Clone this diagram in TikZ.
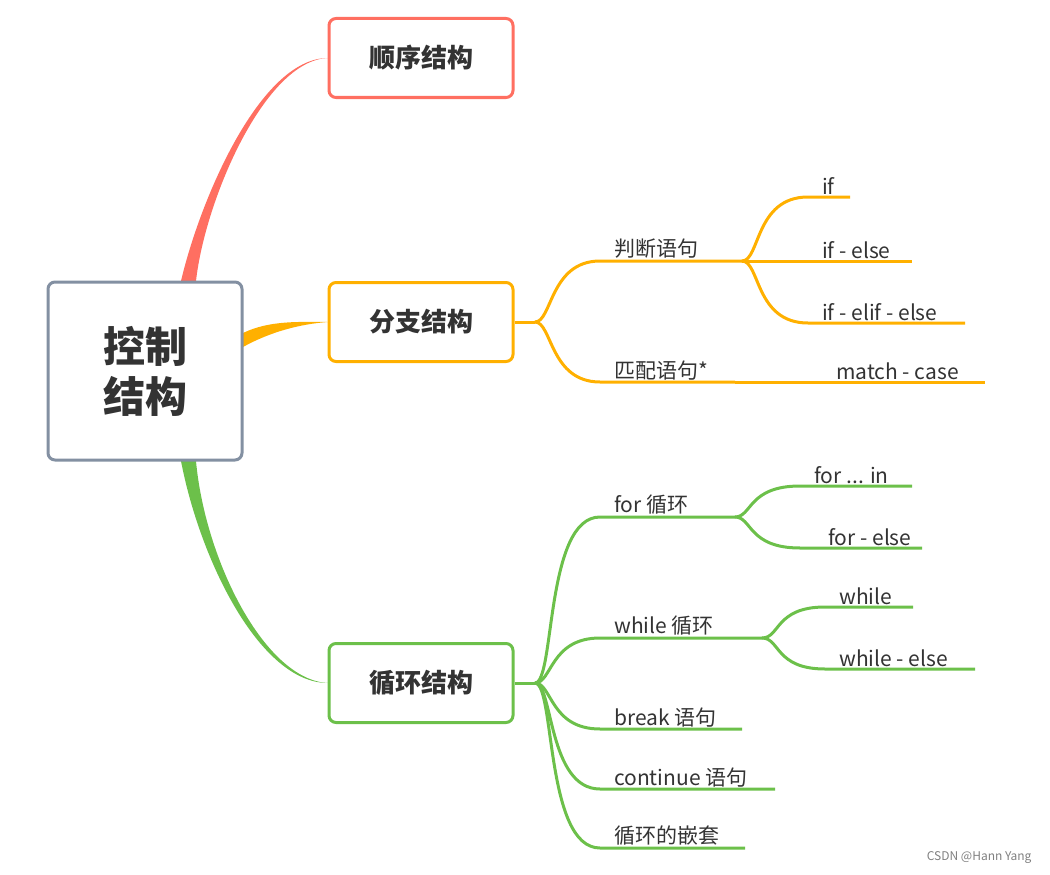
\documentclass[tikz,border=0pt]{standalone}
\usepackage{fontspec}
\setmainfont{Noto Sans CJK SC}
\definecolor{cred}{HTML}{FF6F61}
\definecolor{corg}{HTML}{FFB000}
\definecolor{cgrn}{HTML}{6CC04A}
\definecolor{cgry}{HTML}{8390A2}
\definecolor{ctxt}{HTML}{333333}
\begin{document}
\begin{tikzpicture}[x=1pt,y=-1pt,
  topic/.style={draw,line width=3pt,rounded corners=7pt,fill=white,minimum width=184pt,minimum height=79pt,font=\fontsize{26}{30}\selectfont\bfseries,text=ctxt},
  lbl/.style={anchor=south west,font=\fontsize{21}{24}\selectfont,text=ctxt,inner sep=2pt},
  br/.style={line width=3pt}]
\useasboundingbox (0,0) rectangle (1050,875);
\fill[cred] (181,281) .. controls (200,200) and (260,58) .. (328,58) .. controls (265,60) and (205,200) .. (196,281) -- cycle;
\fill[corg] (243,333) .. controls (270,320) and (300,322) .. (328,322) .. controls (300,324) and (270,332) .. (243,347) -- cycle;
\fill[cgrn] (181,461) .. controls (200,560) and (260,683) .. (328,683) .. controls (265,680) and (205,560) .. (196,461) -- cycle;
\node[topic,draw=cgry,minimum width=194pt,minimum height=178pt,font=\fontsize{42}{50}\selectfont\bfseries,align=center] (root) at (145,371) {控制\\结构};
\node[topic,draw=cred] (seq) at (421,58) {顺序结构};
\node[topic,draw=corg] (sel) at (421,322) {分支结构};
\node[topic,draw=cgrn] (loop) at (421,683) {循环结构};
% orange
\coordinate (oh) at (535,322);
\coordinate (a1) at (600,261); \coordinate (a1e) at (742,261);
\coordinate (a2) at (600,382); \coordinate (a2e) at (735,382);
\draw[br,corg] (sel.east) -- (oh);
\draw[br,corg] (oh) .. controls (552,322) and (550,261) .. (a1) -- (a1e);
\draw[br,corg] (oh) .. controls (552,322) and (550,382) .. (a2) -- (a2e);
\node[lbl] at (a1) [xshift=12pt] {判断语句};
\node[lbl] at (a2) [xshift=12pt] {匹配语句*};
\coordinate (b1) at (808,197); \coordinate (b1e) at (850,197);
\coordinate (b2) at (808,261); \coordinate (b2e) at (912,261);
\coordinate (b3) at (808,323); \coordinate (b3e) at (965,323);
\coordinate (b4) at (808,382); \coordinate (b4e) at (985,382);
\draw[br,corg] (a1e) .. controls (760,261) and (755,197) .. (b1) -- (b1e);
\draw[br,corg] (a1e) -- (b2e);
\draw[br,corg] (a1e) .. controls (760,261) and (755,323) .. (b3) -- (b3e);
\draw[br,corg] (a2e) -- (b4e);
\node[lbl] at (b1) [xshift=12pt] {if};
\node[lbl] at (b2) [xshift=12pt] {if - else};
\node[lbl] at (b3) [xshift=12pt] {if - elif - else};
\node[lbl] at (b4) [xshift=26pt] {match - case};
% green
\coordinate (gh) at (535,683);
\draw[br,cgrn] (loop.east) -- (gh);
\coordinate (c1) at (600,517); \coordinate (c1e) at (735,517);
\coordinate (c2) at (600,638); \coordinate (c2e) at (762,638);
\coordinate (c3) at (600,729); \coordinate (c3e) at (742,729);
\coordinate (c4) at (600,789); \coordinate (c4e) at (775,789);
\coordinate (c5) at (600,848); \coordinate (c5e) at (745,848);
\draw[br,cgrn] (gh) .. controls (555,683) and (545,517) .. (c1) -- (c1e);
\draw[br,cgrn] (gh) .. controls (552,683) and (550,638) .. (c2) -- (c2e);
\draw[br,cgrn] (gh) .. controls (552,683) and (550,729) .. (c3) -- (c3e);
\draw[br,cgrn] (gh) .. controls (553,683) and (548,789) .. (c4) -- (c4e);
\draw[br,cgrn] (gh) .. controls (555,683) and (545,848) .. (c5) -- (c5e);
\node[lbl] at (c1) [xshift=12pt] {for 循环};
\node[lbl] at (c2) [xshift=12pt] {while 循环};
\node[lbl] at (c3) [xshift=12pt] {break 语句};
\node[lbl] at (c4) [xshift=12pt] {continue 语句};
\node[lbl] at (c5) [xshift=12pt] {循环的嵌套};
\coordinate (d1) at (800,486); \coordinate (d1e) at (912,486);
\coordinate (d2) at (800,548); \coordinate (d2e) at (922,548);
\coordinate (d3) at (825,607); \coordinate (d3e) at (913,607);
\coordinate (d4) at (825,669); \coordinate (d4e) at (975,669);
\draw[br,cgrn] (c1e) .. controls (752,517) and (748,486) .. (d1) -- (d1e);
\draw[br,cgrn] (c1e) .. controls (752,517) and (748,548) .. (d2) -- (d2e);
\draw[br,cgrn] (c2e) .. controls (780,638) and (775,607) .. (d3) -- (d3e);
\draw[br,cgrn] (c2e) .. controls (780,638) and (775,669) .. (d4) -- (d4e);
\node[lbl] at (d1) [xshift=12pt] {for ... in};
\node[lbl] at (d2) [xshift=26pt] {for - else};
\node[lbl] at (d3) [xshift=12pt] {while};
\node[lbl] at (d4) [xshift=12pt] {while - else};
\node[font=\fontsize{12}{14}\selectfont,text=gray,anchor=east] (wm) at (1035,858) {CSDN @Hann Yang};
\end{tikzpicture}
\end{document}
